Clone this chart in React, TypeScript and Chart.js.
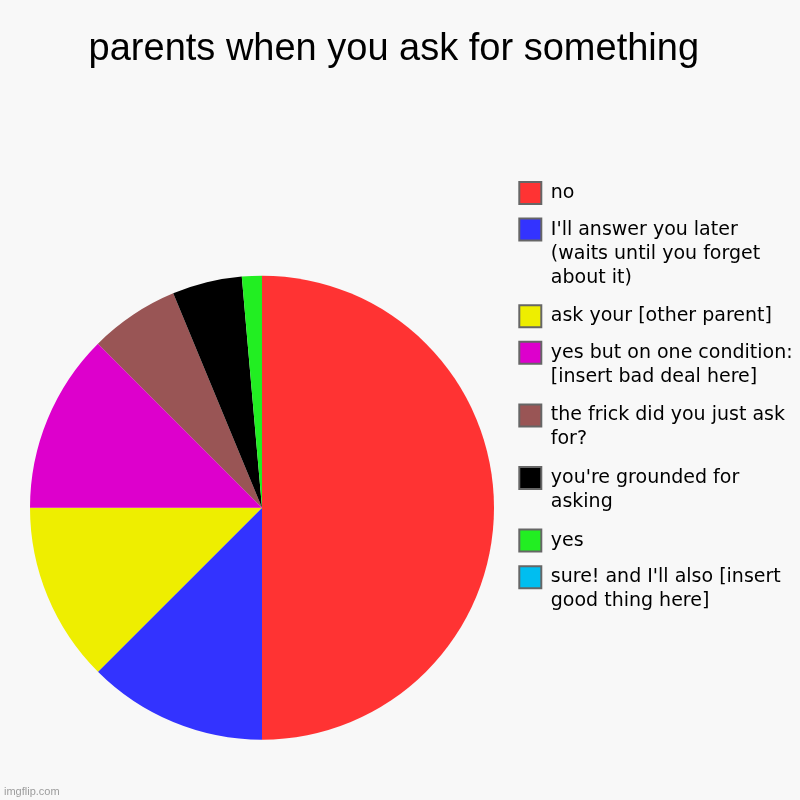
import React, { useEffect, useRef } from "react";
import { Chart, registerables } from "chart.js";

Chart.register(...registerables);

// trailing spaces nudge the centred title slightly left, as in the reference
const TITLE = "parents when you ask for something   ";
const WATERMARK = "imgflip.com";

// legend labels, already broken into the lines shown in the reference
const categoryLines: string[][] = [
  ["no"],
  ["I'll answer you later", "(waits until you forget", "about it)"],
  ["ask your [other parent]"],
  ["yes but on one condition:", "[insert bad deal here]"],
  ["the frick did you just ask", "for?"],
  ["you're grounded for", "asking"],
  ["yes"],
  ["sure! and I'll also [insert", "good thing here]"],
];

const values: number[] = [72, 18, 18, 18, 9, 7, 2, 0];

const sliceColors: string[] = [
  "rgb(255,51,51)",
  "rgb(51,51,255)",
  "rgb(238,238,0)",
  "rgb(221,0,204)",
  "rgb(153,85,85)",
  "rgb(0,0,0)",
  "rgb(34,238,34)",
  "rgb(0,190,240)",
];

const BG = "#f8f8f8";

const backgroundPlugin = {
  id: "bgFill",
  beforeDraw(chart: any) {
    const { ctx, width, height } = chart;
    ctx.save();
    ctx.fillStyle = BG;
    ctx.fillRect(0, 0, width, height);
    ctx.restore();
  },
};

const watermarkPlugin = {
  id: "watermark",
  afterDraw(chart: any) {
    const { ctx, height } = chart;
    ctx.save();
    ctx.font = "11px 'Liberation Sans', Arial, sans-serif";
    ctx.fillStyle = "#9c9c9c";
    ctx.textAlign = "left";
    ctx.textBaseline = "middle";
    ctx.fillText(WATERMARK, 4, height - 8);
    ctx.restore();
  },
};

export default function App() {
  const canvasRef = useRef<HTMLCanvasElement | null>(null);

  useEffect(() => {
    document.body.style.margin = "0";
    document.body.style.background = BG;
    const canvas = canvasRef.current;
    if (!canvas) return;

    const chart = new Chart(canvas, {
      type: "pie",
      data: {
        labels: categoryLines.map((l) => l.join(" ")),
        datasets: [
          {
            data: values,
            backgroundColor: sliceColors,
            borderWidth: 0,
            radius: 232,
          },
        ],
      },
      plugins: [backgroundPlugin, watermarkPlugin],
      options: {
        responsive: false,
        animation: false,
        devicePixelRatio: 1,
        layout: {
          padding: { left: 19.3, right: 0, top: 0, bottom: 3.8 },
        },
        plugins: {
          tooltip: { enabled: false },
          title: {
            display: true,
            text: TITLE,
            color: "#000",
            font: {
              family: "'Liberation Sans', Arial, sans-serif",
              size: 38,
              weight: "normal",
              lineHeight: 1.2,
            },
            padding: { top: 27, bottom: 146.6 },
          },
          legend: {
            display: true,
            position: "right",
            align: "center",
            maxWidth: 295.3,
            labels: {
              boxWidth: 22,
              boxHeight: 22,
              padding: 14.6,
              color: "#000",
              font: {
                family: "'DejaVu Sans', sans-serif",
                size: 19,
                lineHeight: "24px",
              },
              generateLabels: (c: any) =>
                categoryLines.map((lines, i) => ({
                  text: lines.length === 1 ? lines[0] : lines,
                  fillStyle: sliceColors[i],
                  strokeStyle: "#666",
                  lineWidth: 2,
                  fontColor: "#000",
                  hidden: false,
                  index: i,
                })),
            },
          },
        },
      },
    } as any);

    return () => chart.destroy();
  }, []);

  return (
    <canvas
      ref={canvasRef}
      width={800}
      height={800}
      style={{ display: "block", width: 800, height: 800 }}
    />
  );
}
